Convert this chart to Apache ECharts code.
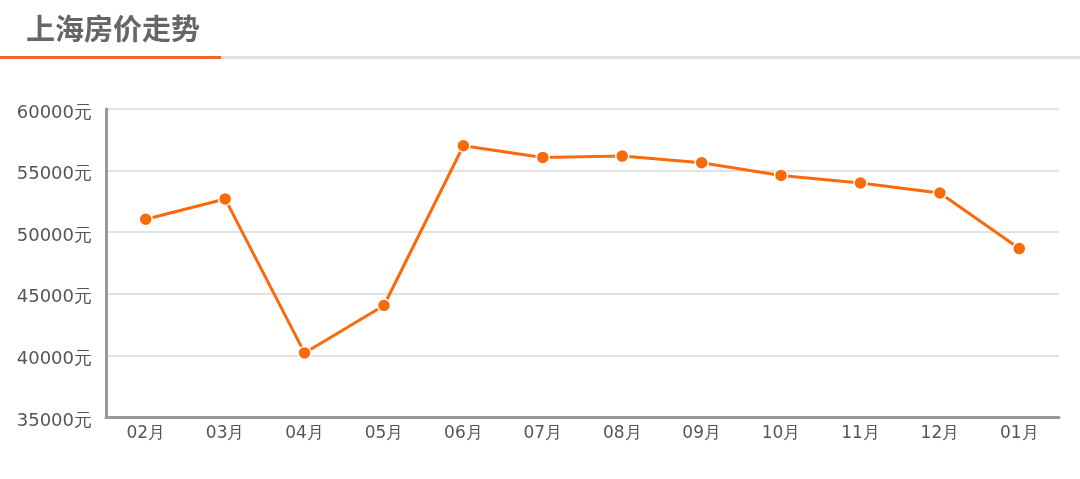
<!DOCTYPE html>
<html>
<head>
<meta charset="utf-8">
<script src="https://cdn.jsdelivr.net/npm/echarts@6/dist/echarts.min.js"></script>
<style>
html,body{margin:0;padding:0;background:#fff;}
#chart{width:1080px;height:479px;}
</style>
</head>
<body>
<div id="chart"></div>
<script>
const titleText = '上海房价走势';
const months = ['02月','03月','04月','05月','06月','07月','08月','09月','10月','11月','12月','01月'];
const prices = [51050, 52700, 40200, 44050, 57020, 56070, 56180, 55640, 54610, 53990, 53180, 48670];
const yMin = 35000, yMax = 60000, yStep = 5000;

const chart = echarts.init(document.getElementById('chart'), null, {renderer:'canvas'});
chart.setOption({
  backgroundColor:'#fff',
  animation:false,
  title:{
    text:titleText, left:21, top:9,
    textStyle:{fontSize:29, fontWeight:'bold', color:'#666666', fontFamily:'"Noto Sans CJK SC", sans-serif'}
  },
  graphic:[
    {type:'rect', left:0, top:56, shape:{width:1080, height:3}, style:{fill:'#e0e0e0'}, z:1},
    {type:'rect', left:0, top:56, shape:{width:221, height:3}, style:{fill:'#f2622a'}, z:2}
  ],
  grid:{left:106, right:21, top:109, bottom:62},
  xAxis:{
    type:'category', data:months, boundaryGap:true,
    axisLine:{lineStyle:{color:'#999999', width:3}},
    axisTick:{alignWithLabel:true, length:6, lineStyle:{color:'#ccd6eb', width:1}},
    axisLabel:{color:'#555', fontSize:17, margin:8, fontFamily:'"DejaVu Sans", sans-serif'},
    splitLine:{show:false}
  },
  yAxis:{
    type:'value', min:yMin, max:yMax, interval:yStep,
    axisLine:{show:true, lineStyle:{color:'#999999', width:3}},
    axisTick:{show:false},
    axisLabel:{color:'#555', fontSize:18, margin:14, verticalAlign:'top', lineHeight:8, formatter:v=>v+'元', fontFamily:'"DejaVu Sans", sans-serif'},
    splitLine:{lineStyle:{color:'#d8d8d8', width:1.5}}
  },
  series:[{
    type:'line', data:prices,
    symbol:'circle', symbolSize:13,
    lineStyle:{color:'#fa6a0a', width:3},
    itemStyle:{color:'#fa6a0a', borderColor:'#ffffff', borderWidth:1.5}
  }]
});
</script>
</body>
</html>
